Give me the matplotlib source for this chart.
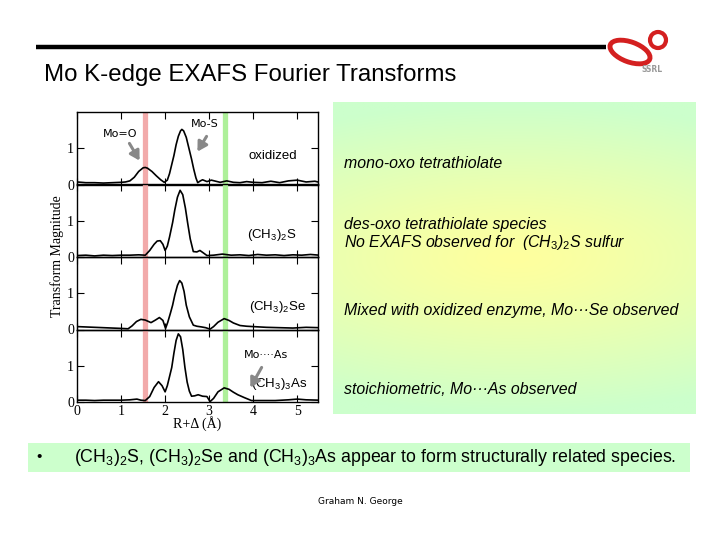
import numpy as np
import matplotlib
matplotlib.use("Agg")
import matplotlib.pyplot as plt
from matplotlib.patches import Ellipse, Circle, Rectangle

plt.rcParams['mathtext.fontset'] = 'custom'
plt.rcParams['mathtext.rm'] = 'Liberation Sans'
plt.rcParams['mathtext.it'] = 'Liberation Sans:italic'
plt.rcParams['mathtext.bf'] = 'Liberation Sans:bold'

# ---------------- data ----------------
x_ox = [0, 0.2, 0.4, 0.6, 0.8, 1.0, 1.1, 1.2, 1.3, 1.4, 1.5, 1.55, 1.6, 1.7, 1.8, 1.9, 1.98,
        2.05, 2.1, 2.15, 2.2, 2.25, 2.3, 2.35, 2.38, 2.42, 2.48, 2.55, 2.6, 2.65, 2.7, 2.74,
        2.8, 2.85, 2.95, 3.05, 3.15, 3.25, 3.4, 3.55, 3.7, 3.85, 4.0, 4.2, 4.4, 4.6, 4.8,
        5.0, 5.2, 5.4, 5.5]
y_ox = [0.07, 0.05, 0.05, 0.04, 0.05, 0.06, 0.07, 0.10, 0.20, 0.36, 0.46, 0.47, 0.45, 0.36,
        0.24, 0.13, 0.06, 0.12, 0.30, 0.55, 0.80, 1.10, 1.33, 1.48, 1.52, 1.48, 1.30, 0.95,
        0.70, 0.42, 0.18, 0.05, 0.10, 0.13, 0.08, 0.12, 0.09, 0.06, 0.10, 0.06, 0.05, 0.08,
        0.06, 0.05, 0.09, 0.05, 0.10, 0.12, 0.07, 0.09, 0.06]

x_s = [0, 0.2, 0.4, 0.6, 0.8, 1.0, 1.2, 1.4, 1.55, 1.65, 1.75, 1.82, 1.89, 1.95, 2.0,
       2.05, 2.1, 2.17, 2.22, 2.28, 2.34, 2.4, 2.46, 2.51, 2.57, 2.64, 2.72, 2.79, 2.86, 2.95,
       3.1, 3.3, 3.5, 3.7, 3.9, 4.1, 4.3, 4.5, 4.7, 4.9, 5.1, 5.3, 5.5]
y_s = [0.04, 0.05, 0.03, 0.05, 0.04, 0.05, 0.05, 0.06, 0.05, 0.18, 0.35, 0.44, 0.45, 0.35,
       0.18, 0.30, 0.55, 0.95, 1.30, 1.65, 1.84, 1.72, 1.35, 0.95, 0.50, 0.15, 0.14, 0.18,
       0.12, 0.04, 0.05, 0.08, 0.05, 0.06, 0.04, 0.07, 0.05, 0.06, 0.04, 0.06, 0.05, 0.07,
       0.05]

x_se = [0, 0.2, 0.4, 0.6, 0.8, 1.0, 1.16, 1.25, 1.35, 1.45, 1.55, 1.68, 1.78, 1.87, 1.95,
        2.01, 2.06, 2.12, 2.17, 2.22, 2.28, 2.33, 2.38, 2.43, 2.48, 2.55, 2.64, 2.72, 2.83,
        2.92, 3.02, 3.1, 3.2, 3.34, 3.45, 3.55, 3.7, 3.85, 4.0, 4.3, 4.6, 4.9, 5.2, 5.5]
y_se = [0.08, 0.07, 0.06, 0.05, 0.04, 0.03, 0.02, 0.10, 0.22, 0.28, 0.26, 0.19, 0.26, 0.33,
        0.25, 0.03, 0.20, 0.45, 0.67, 0.95, 1.22, 1.35, 1.28, 1.05, 0.67, 0.35, 0.12, 0.09,
        0.07, 0.05, 0.01, 0.08, 0.20, 0.30, 0.25, 0.18, 0.11, 0.09, 0.08, 0.06, 0.05, 0.04,
        0.06, 0.05]

x_as = [0, 0.2, 0.4, 0.6, 0.8, 1.0, 1.2, 1.36, 1.45, 1.55, 1.65, 1.75, 1.85, 1.93, 2.0,
        2.05, 2.1, 2.15, 2.2, 2.25, 2.3, 2.35, 2.4, 2.45, 2.5, 2.55, 2.6, 2.67, 2.75, 2.85,
        2.95, 3.02, 3.1, 3.2, 3.34, 3.45, 3.55, 3.65, 3.8, 3.96, 4.2, 4.5, 4.8, 5.0, 5.2, 5.5]
y_as = [0.05, 0.05, 0.04, 0.05, 0.05, 0.05, 0.06, 0.08, 0.05, 0.04, 0.15, 0.40, 0.56, 0.45,
        0.28, 0.45, 0.70, 0.95, 1.35, 1.70, 1.88, 1.80, 1.45, 0.95, 0.55, 0.30, 0.16, 0.17,
        0.20, 0.16, 0.15, 0.01, 0.10, 0.28, 0.39, 0.35, 0.27, 0.20, 0.12, 0.04, 0.04, 0.04,
        0.06, 0.08, 0.06, 0.05]

series_x = [x_ox, x_s, x_se, x_as]
series_y = [y_ox, y_s, y_se, y_as]
panel_labels = ["oxidized", r"(CH$_3$)$_2$S", r"(CH$_3$)$_2$Se", r"(CH$_3$)$_3$As"]
xticks = [0, 1, 2, 3, 4, 5]
mo_o_pos = 1.55
mo_x_pos = 3.35

notes = [
    ("mono-oxo tetrathiolate", 163),
    ("des-oxo tetrathiolate species", 224),
    (r"No EXAFS observed for  (CH$_3$)$_2$S sulfur", 242),
    ("Mixed with oxidized enzyme, Mo\u00b7\u00b7\u00b7Se observed", 311),
    ("stoichiometric, Mo\u00b7\u00b7\u00b7As observed", 389),
]

# ---------------- figure ----------------
W, H = 720, 540
fig = plt.figure(figsize=(7.2, 5.4), dpi=100)
fig.patch.set_facecolor("white")

def fx(px):
    return px / W

def fy(py):
    return 1 - py / H

bg = fig.add_axes([0, 0, 1, 1])
bg.set_xlim(0, W)
bg.set_ylim(H, 0)
bg.axis("off")

# gradient panel
gx0, gx1, gy0, gy1 = 333, 696, 102, 414
u = np.linspace(-1, 1, 200)
v = np.linspace(-1, 1, 200)
U, V = np.meshgrid(u, v)
t = np.clip(np.sqrt(V ** 2 + (0.45 * U) ** 2), 0, 1) ** 1.2
yellow = np.array([1.0, 1.0, 0.62])
green = np.array([0.80, 1.0, 0.80])
img = yellow[None, None, :] * (1 - t[..., None]) + green[None, None, :] * t[..., None]
bg.imshow(img, extent=[gx0, gx1, gy1, gy0], aspect="auto", zorder=0)

# bullet box
bg.add_patch(Rectangle((28, 443), 662, 29, facecolor="#ccffcc", edgecolor="none", zorder=0))

# top rule
bg.plot([36, 606], [47, 47], color="black", lw=3.2, solid_capstyle="butt", zorder=2)

# logo
bg.add_patch(Ellipse((630, 52), 42, 20, angle=20, fill=False, ec="#d42020", lw=3.5, zorder=3))
bg.add_patch(Circle((658, 40), 8, fill=False, ec="#d42020", lw=3, zorder=3))
bg.text(652, 70, "SSRL", fontsize=5.5, color="#999999", ha="center", va="center",
        family="DejaVu Sans", fontweight="bold")

# title
bg.text(44, 75, "Mo K-edge EXAFS Fourier Transforms", fontsize=17.3,
        family="Liberation Sans", ha="left", va="center")

# notes
for txt, yy in notes:
    bg.text(344, yy, txt, fontsize=11.4, style="italic", family="Liberation Sans",
            ha="left", va="center", zorder=3)

# bullet
bg.text(36, 457, "\u2022", fontsize=11, family="Liberation Sans", ha="left", va="center")
bg.text(74, 457,
        r"(CH$_3$)$_2$S, (CH$_3$)$_2$Se and (CH$_3$)$_3$As appear to form structurally related species.",
        fontsize=12.8, family="Liberation Sans", ha="left", va="center")

bg.text(360, 501, "Graham N. George", fontsize=6.5, family="DejaVu Sans", ha="center", va="center")

# ---------------- chart panels ----------------
left_px, right_px = 77, 318
top_px, bot_px = 112, 402
ph = (bot_px - top_px) / 4.0
axes = []
for i in range(4):
    ptop = top_px + i * ph
    ax = fig.add_axes([fx(left_px), fy(ptop + ph), fx(right_px - left_px), ph / H], zorder=2)
    ax.patch.set_alpha(0)
    ax.set_xlim(0, 5.47)
    ax.set_ylim(0, 2.0)
    ax.axvline(mo_o_pos, color="#f2aaaa", lw=3.8, zorder=1)
    ax.axvline(mo_x_pos, color="#aef09a", lw=3.8, zorder=1)
    ax.plot(series_x[i], series_y[i], color="black", lw=1.2, zorder=3)
    ax.set_xticks(xticks)
    ax.set_yticks([0, 1])
    ax.tick_params(direction="in", top=True, right=True, length=5, width=0.8,
                   labelsize=10, pad=2)
    for lab in ax.get_yticklabels() + ax.get_xticklabels():
        lab.set_family("Liberation Serif")
    if i < 3:
        ax.tick_params(labelbottom=False)
    for sp in ax.spines.values():
        sp.set_linewidth(1.0)
    axes.append(ax)

axes[-1].set_xlabel("R+\u0394 (\u00c5)", family="Liberation Serif", fontsize=10, labelpad=-1)
fig.text(fx(57), fy(256), "Transform Magnitude", rotation=90, family="Liberation Serif",
         fontsize=10, ha="center", va="center")

# panel labels
label_px = [(273, 156), (272, 235), (277, 307), (279, 384)]
for (lx, ly), lab in zip(label_px, panel_labels):
    bg.text(lx, ly, lab, fontsize=9.5, family="Liberation Sans", ha="center", va="center",
            zorder=5)

# annotations
bg.text(120, 134, "Mo=O", fontsize=8, family="DejaVu Sans", ha="center", va="center", zorder=5)
bg.text(205, 124, "Mo-S", fontsize=8, family="DejaVu Sans", ha="center", va="center", zorder=5)
bg.text(266, 355, "Mo\u00b7\u00b7\u00b7\u00b7As", fontsize=8, family="DejaVu Sans",
        ha="center", va="center", zorder=5)

arrow_kw = dict(arrowstyle="-|>,head_length=0.55,head_width=0.32", color="#888888", lw=2.2)
for (x0, y0), (x1, y1) in [((128, 141), (141, 163)), ((208, 134), (196, 154)),
                            ((263, 365), (249, 390))]:
    bg.annotate("", xy=(x1, y1), xytext=(x0, y0), arrowprops=arrow_kw, zorder=6)

bg.set_zorder(1)
fig.savefig("out.png", dpi=100)
